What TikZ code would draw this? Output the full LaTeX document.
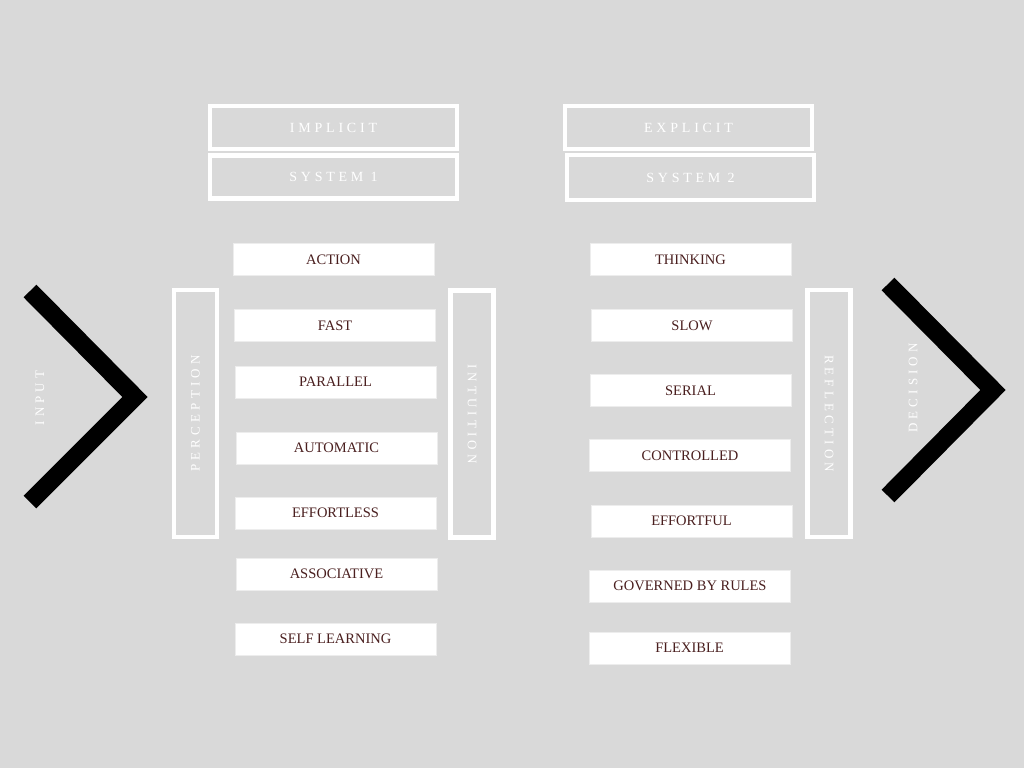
\documentclass[tikz,border=0pt]{standalone}
\usepackage{fontspec}
\setmainfont{Liberation Serif}
\newfontfamily\spacedfont[LetterSpace=32]{Liberation Serif}
\newfontfamily\headfont[LetterSpace=27]{Liberation Serif}
\definecolor{bg}{HTML}{D9D9D9}
\definecolor{ink}{HTML}{4A1F1F}
\tikzset{
  header/.style={draw=white, line width=4.5pt, inner sep=0pt, minimum width=247pt, minimum height=43pt,
    text=white, font=\headfont\fontsize{14}{16}\selectfont},
  sidebox/.style={draw=white, line width=4.5pt, inner sep=0pt, minimum width=43pt, minimum height=247pt,
    text=white, font=\spacedfont\fontsize{13}{15}\selectfont},
  item/.style={fill=white, draw=white!93!black, line width=0.6pt, inner sep=0pt, minimum width=201pt, minimum height=32pt,
    text=ink, font=\fontsize{14.5}{16}\selectfont},
  chev/.style={line width=18pt, miter limit=10, line join=miter, line cap=butt, draw=black},
  sidelabel/.style={text=white, font=\spacedfont\fontsize{13}{15}\selectfont, inner sep=0pt}
}
\begin{document}
\begin{tikzpicture}[x=1pt,y=-1pt]
\fill[bg] (0,0) rectangle (1024,768);
\useasboundingbox (0,0) rectangle (1024,768);

% headers
\node[header] (implicit) at (333.5,127.5) {IMPLICIT};
\node[header] (sys1) at (333.5,177) {SYSTEM 1};
\node[header] (explicit) at (688.5,127.5) {EXPLICIT};
\node[header, minimum height=45pt] (sys2) at (690.5,177.5) {SYSTEM 2};

% chevrons
\draw[chev] (30,291) -- (135,397) -- (30,502);
\draw[chev] (888,284) -- (993,390) -- (888,496);
\node[sidelabel, rotate=90] (input) at (40,398) {INPUT};
\node[sidelabel, rotate=90] (decision) at (913,388) {DECISION};

% side boxes
\node[sidebox] (perception) at (195.5,413.5) {};
\node[sidelabel, rotate=90] (perceptiont) at (perception.center) {PERCEPTION};
\node[sidebox] (intuition) at (472,414) {};
\node[sidelabel, rotate=-90] (intuitiont) at (intuition.center) {INTUITION};
\node[sidebox] (reflection) at (829,413.5) {};
\node[sidelabel, rotate=-90] (reflectiont) at (reflection.center) {REFLECTION};

% left column
\node[item] (action) at (333.5,259.5) {ACTION};
\node[item] (fast) at (335,325.5) {FAST};
\node[item] (parallel) at (335.5,382) {PARALLEL};
\node[item] (automatic) at (336.5,448) {AUTOMATIC};
\node[item] (effortless) at (335.5,513) {EFFORTLESS};
\node[item] (associative) at (336.5,574) {ASSOCIATIVE};
\node[item] (selflearning) at (335.5,639) {SELF LEARNING};

% right column
\node[item] (thinking) at (690.5,259.5) {THINKING};
\node[item] (slow) at (692,325.5) {SLOW};
\node[item] (serial) at (690.5,390.5) {SERIAL};
\node[item] (controlled) at (690,455.5) {CONTROLLED};
\node[item] (effortful) at (691.5,521) {EFFORTFUL};
\node[item] (governed) at (690,586) {GOVERNED BY RULES};
\node[item] (flexible) at (689.5,648) {FLEXIBLE};
\end{tikzpicture}
\end{document}
